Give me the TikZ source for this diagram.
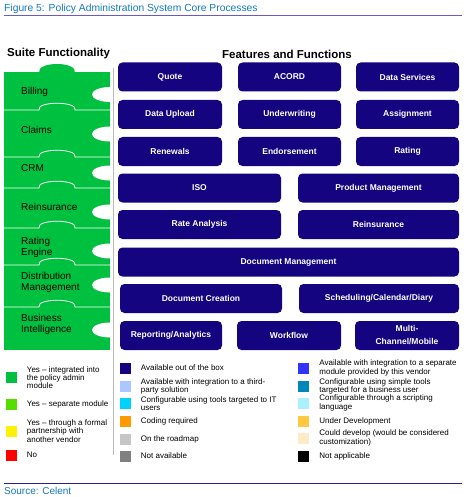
\documentclass[tikz,border=0pt]{standalone}
\usepackage{fontspec}
\setmainfont{Liberation Sans}
\usetikzlibrary{positioning}

\definecolor{navybox}{RGB}{20,4,128}
\definecolor{suitegreen}{RGB}{0,192,64}
\definecolor{limegreen}{RGB}{85,221,0}
\definecolor{celentblue}{RGB}{20,120,190}
\definecolor{ruleviolet}{RGB}{105,90,200}
\definecolor{rulenavy}{RGB}{40,30,140}
\definecolor{thirdparty}{RGB}{170,200,255}
\definecolor{itcyan}{RGB}{0,210,255}
\definecolor{codeorange}{RGB}{255,153,0}
\definecolor{sepblue}{RGB}{51,51,255}
\definecolor{bizteal}{RGB}{0,136,187}
\definecolor{scriptcyan}{RGB}{170,240,255}
\definecolor{devamber}{RGB}{255,200,64}
\definecolor{peach}{RGB}{255,235,200}

\begin{document}
\begin{tikzpicture}[
        x=1pt, y=-1pt,
        featbox/.style={rectangle, rounded corners=4.5pt, fill=navybox, text=white, align=center,
            font=\fontsize{8.5}{13}\selectfont\bfseries, minimum height=29pt, inner sep=0pt},
        piece/.style={anchor=west, align=left, inner sep=0pt, font=\fontsize{10}{11}\selectfont},
        heading/.style={inner sep=0pt, font=\fontsize{11.5}{13}\selectfont\bfseries},
        legsq/.style={rectangle, minimum size=11pt, inner sep=0pt},
        legtext/.style={right=10pt of #1, align=left, inner sep=0pt, font=\fontsize{8}{8.3}\selectfont},
        seam/.style={white, line width=0.8pt}
    ]
        \useasboundingbox (0,0) rectangle (466,497);

        % Title and rules
        \node[anchor=west, inner sep=0pt, text=celentblue, font=\fontsize{10.3}{12}\selectfont] (title) at (4,9) {Figure 5: Policy Administration System Core Processes};
        \draw[ruleviolet, line width=1pt] (4,15.5) -- (462,15.5);
        \draw[rulenavy, line width=1pt] (4,483) -- (462,483);
        \node[anchor=west, inner sep=0pt, text=celentblue, font=\fontsize{10}{12}\selectfont] (source) at (4,491) {Source: Celent};

        % Column headings
        \node[heading, anchor=west] (suitehead) at (7,54) {Suite Functionality};
        \node[heading] (feathead) at (287,54) {Features and Functions};

        % Puzzle column
        \fill[suitegreen] (4,72) rectangle (110,350);
        \fill[suitegreen] (39,73) .. controls (36,61) and (78,61) .. (75,73) -- cycle;
        \foreach \y in {94.5,134,173,212,251,285,330}
            \fill[white] (110,\y) ellipse [x radius=18, y radius=7.5];
        \foreach \y in {110,157,188,228,265,307}
            \draw[seam] (4,\y) -- (39,\y) .. controls (36,\y-9) and (78,\y-9) .. (75,\y) -- (110,\y);

        \node[piece] (billing) at (21,92) {Billing};
        \node[piece] (claims) at (21,130) {Claims};
        \node[piece] (crm) at (21,168) {CRM};
        \node[piece] (suitereins) at (21,207) {Reinsurance};
        \node[piece] (ratingeng) at (21,247) {Rating\\Engine};
        \node[piece] (distmgmt) at (21,282) {Distribution\\Management};
        \node[piece] (bizintel) at (21,324) {Business\\Intelligence};

        % Divider
        \draw[gray!55, line width=0.8pt] (113,68) -- (113,455);

        % Feature boxes, row by row
        \node[featbox, minimum width=104pt] (quote) at (170,77) {Quote};
        \node[featbox, minimum width=103pt] (acord) at (289.5,77) {ACORD};
        \node[featbox, minimum width=103pt] (datasvc) at (407.5,77) {Data Services};

        \node[featbox, minimum width=104pt] (dataup) at (170,114.5) {Data Upload};
        \node[featbox, minimum width=103pt] (uw) at (289.5,114.5) {Underwriting};
        \node[featbox, minimum width=103pt] (assign) at (407.5,114.5) {Assignment};

        \node[featbox, minimum width=104pt] (renew) at (170,151.5) {Renewals};
        \node[featbox, minimum width=103pt] (endorse) at (289.5,151.5) {Endorsement};
        \node[featbox, minimum width=103pt] (rating) at (407.5,151.5) {Rating};

        \node[featbox, minimum width=163pt] (iso) at (199.5,188) {ISO};
        \node[featbox, minimum width=161pt] (prodmgmt) at (378.5,188) {Product Management};

        \node[featbox, minimum width=163pt] (rateanal) at (199.5,224.5) {Rate Analysis};
        \node[featbox, minimum width=161pt] (reins) at (378.5,224.5) {Reinsurance};

        \node[featbox, minimum width=341pt] (docmgmt) at (288.5,262) {Document Management};

        \node[featbox, minimum width=162pt] (doccreate) at (201,298.5) {Document Creation};
        \node[featbox, minimum width=160pt] (sched) at (379,298.5) {Scheduling/Calendar/Diary};

        \node[featbox, minimum width=102pt] (report) at (171,335.5) {Reporting/Analytics};
        \node[featbox, minimum width=104pt] (workflow) at (289,335.5) {Workflow};
        \node[featbox, minimum width=104pt] (multich) at (407,335.5) {Multi-\\Channel/Mobile};

        % Legend - suite functionality
        \node[legsq, fill=suitegreen] (yesint) at (11,377.5) {};
        \node[legtext=yesint] {Yes -- integrated into\\the policy admin\\module};
        \node[legsq, fill=limegreen] (yessep) at (11,404.5) {};
        \node[legtext=yessep] {Yes -- separate module};
        \node[legsq, fill=yellow] (yespart) at (11,431) {};
        \node[legtext=yespart] {Yes -- through a formal\\partnership with\\another vendor};
        \node[legsq, fill=red] (nosupp) at (11,455) {};
        \node[legtext=nosupp] {No};

        % Legend - features, first column
        \node[legsq, fill=navybox] (ootb) at (125,368) {};
        \node[legtext=ootb] {Available out of the box};
        \node[legsq, fill=thirdparty] (thirdp) at (125,386.5) {};
        \node[legtext=thirdp] {Available with integration to a third-\\party solution};
        \node[legsq, fill=itcyan] (cfgit) at (125,403.5) {};
        \node[legtext=cfgit] {Configurable using tools targeted to IT\\users};
        \node[legsq, fill=codeorange] (coding) at (125,421) {};
        \node[legtext=coding] {Coding required};
        \node[legsq, fill=gray!45] (roadmap) at (125,439) {};
        \node[legtext=roadmap] {On the roadmap};
        \node[legsq, fill=gray] (notavail) at (125,456) {};
        \node[legtext=notavail] {Not available};

        % Legend - features, second column
        \node[legsq, fill=sepblue] (sepmod) at (303.5,368) {};
        \node[legtext=sepmod] {Available with integration to a separate\\module provided by this vendor};
        \node[legsq, fill=bizteal] (cfgbiz) at (303.5,386.5) {};
        \node[legtext=cfgbiz] {Configurable using simple tools\\targeted for a business user};
        \node[legsq, fill=scriptcyan] (script) at (303.5,403) {};
        \node[legtext=script] {Configurable through a scripting\\language};
        \node[legsq, fill=devamber] (underdev) at (303.5,421) {};
        \node[legtext=underdev] {Under Development};
        \node[legsq, fill=peach] (coulddev) at (303.5,438) {};
        \node[legtext=coulddev] {Could develop (would be considered\\customization)};
        \node[legsq, fill=black] (notappl) at (303.5,456) {};
        \node[legtext=notappl] {Not applicable};

    \end{tikzpicture}
\end{document}
